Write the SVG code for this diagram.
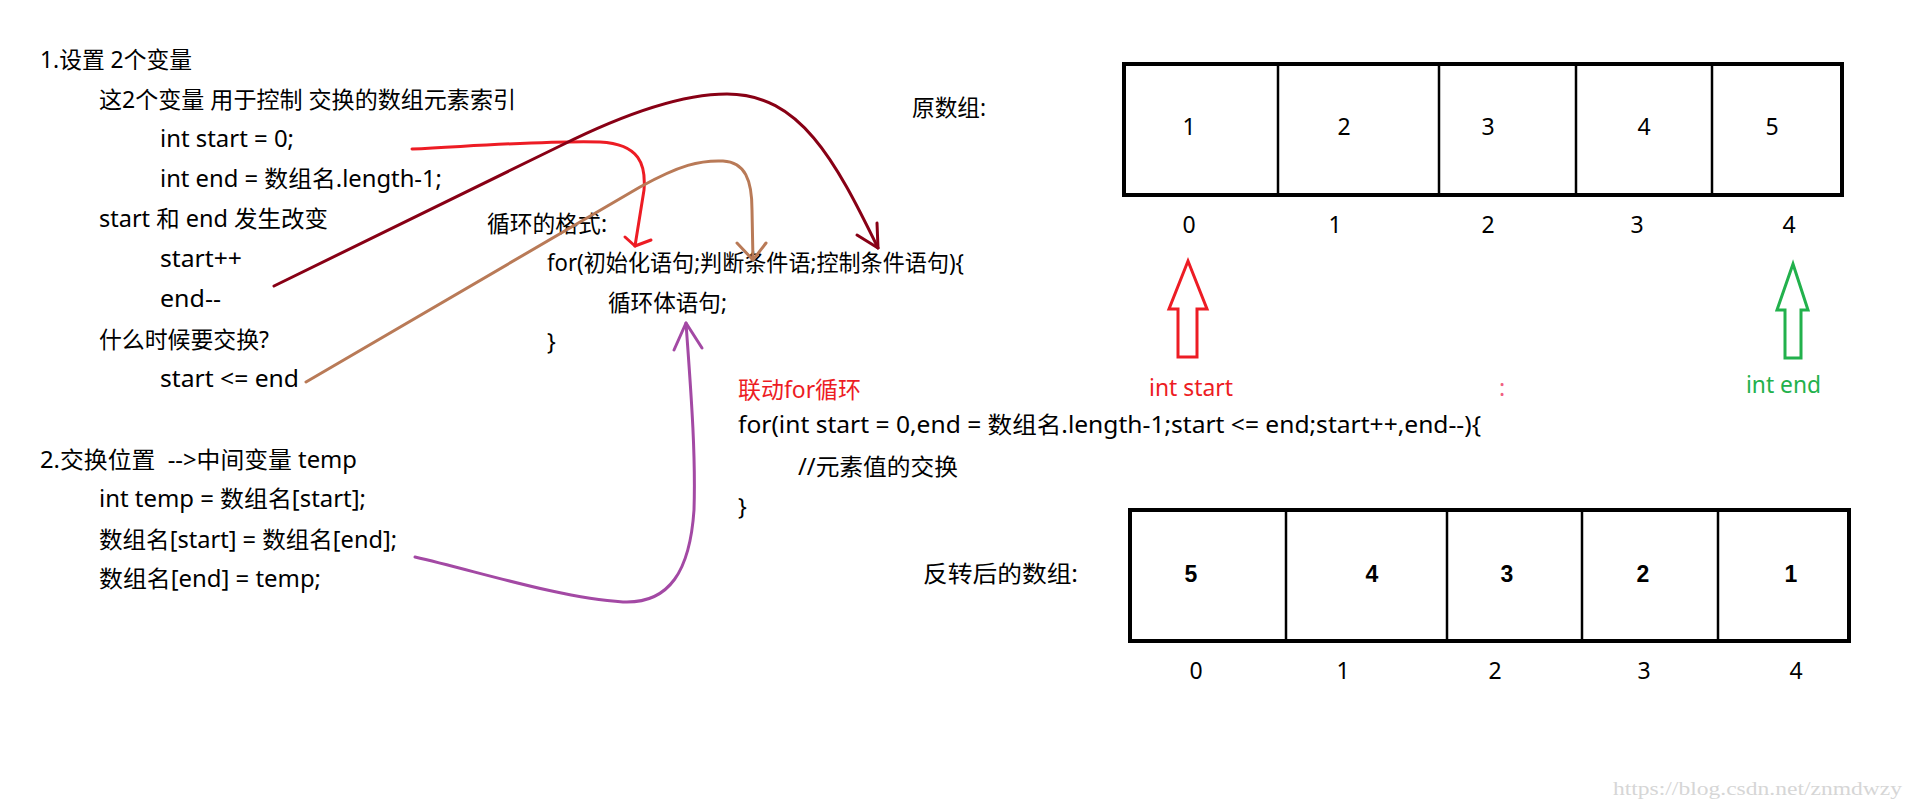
<svg xmlns="http://www.w3.org/2000/svg" width="1914" height="812" viewBox="0 0 1914 812">
<style>
text{font-family:"Noto Sans","Noto Sans CJK SC",sans-serif;font-size:23px;fill:#000}
.red{fill:#ed1c24}
.grn{fill:#22b14c}
.num{text-anchor:middle}
.bnum{text-anchor:middle;font-family:"Liberation Sans",sans-serif;font-weight:bold;font-size:23px}
.box{fill:#fff;stroke:#000;stroke-width:4}
.div{stroke:#000;stroke-width:2.5}
.c{fill:none;stroke-linecap:round;stroke-linejoin:round}
.wm{font-family:"Liberation Serif",serif;font-size:19px;fill:#d6d6d6}
</style>
<rect width="1914" height="812" fill="#fff"/>

<g id="step1">
<text x="40" y="68" textLength="152" lengthAdjust="spacingAndGlyphs">1.设置 2个变量</text>
<text x="99" y="108" textLength="417" lengthAdjust="spacingAndGlyphs">这2个变量 用于控制 交换的数组元素索引</text>
<text x="160" y="147" textLength="134" lengthAdjust="spacingAndGlyphs">int start = 0;</text>
<text x="160" y="187" textLength="282" lengthAdjust="spacingAndGlyphs">int end = 数组名.length-1;</text>
<text x="99" y="227" textLength="229" lengthAdjust="spacingAndGlyphs">start 和 end 发生改变</text>
<text x="160" y="267" textLength="82" lengthAdjust="spacingAndGlyphs">start++</text>
<text x="160" y="307" textLength="61" lengthAdjust="spacingAndGlyphs">end--</text>
<text x="99" y="348" textLength="170" lengthAdjust="spacingAndGlyphs">什么时候要交换?</text>
<text x="160" y="387" textLength="139" lengthAdjust="spacingAndGlyphs">start &lt;= end</text>
</g>

<g id="step2">
<text x="40" y="468" textLength="317" lengthAdjust="spacingAndGlyphs" xml:space="preserve">2.交换位置  --&gt;中间变量 temp</text>
<text x="99" y="507" textLength="267" lengthAdjust="spacingAndGlyphs">int temp = 数组名[start];</text>
<text x="99" y="548" textLength="298" lengthAdjust="spacingAndGlyphs">数组名[start] = 数组名[end];</text>
<text x="99" y="587" textLength="222" lengthAdjust="spacingAndGlyphs">数组名[end] = temp;</text>
</g>

<g id="loopFormat">
<text x="487" y="232" textLength="120" lengthAdjust="spacingAndGlyphs">循环的格式:</text>
<text x="547" y="271" textLength="417" lengthAdjust="spacingAndGlyphs">for(初始化语句;判断条件语;控制条件语句){</text>
<text x="608" y="311" textLength="119" lengthAdjust="spacingAndGlyphs">循环体语句;</text>
<text x="547" y="350">}</text>
</g>

<g id="linkedFor">
<text x="738" y="398" class="red" textLength="123" lengthAdjust="spacingAndGlyphs">联动for循环</text>
<text x="738" y="433" textLength="743" lengthAdjust="spacingAndGlyphs">for(int start = 0,end = 数组名.length-1;start &lt;= end;start++,end--){</text>
<text x="798" y="475" textLength="160" lengthAdjust="spacingAndGlyphs">//元素值的交换</text>
<text x="738" y="515">}</text>
</g>

<g id="originalArray">
<text x="912" y="116" textLength="74" lengthAdjust="spacingAndGlyphs">原数组:</text>
<rect class="box" x="1124" y="64" width="718" height="131"/>
<line class="div" x1="1278" y1="64" x2="1278" y2="195"/>
<line class="div" x1="1439" y1="64" x2="1439" y2="195"/>
<line class="div" x1="1576" y1="64" x2="1576" y2="195"/>
<line class="div" x1="1712" y1="64" x2="1712" y2="195"/>
<text class="num" x="1189" y="135">1</text>
<text class="num" x="1344" y="135">2</text>
<text class="num" x="1488" y="135">3</text>
<text class="num" x="1644" y="135">4</text>
<text class="num" x="1772" y="135">5</text>
<text class="num" x="1189" y="233">0</text>
<text class="num" x="1335" y="233">1</text>
<text class="num" x="1488" y="233">2</text>
<text class="num" x="1637" y="233">3</text>
<text class="num" x="1789" y="233">4</text>
</g>

<g id="startPointer">
<path d="M1188,261 L1207,309 L1197,309 L1197,357 L1178,357 L1178,309 L1169,309 Z" fill="none" stroke="#ed1c24" stroke-width="3"/>
<text x="1149" y="396" class="red" textLength="84" lengthAdjust="spacingAndGlyphs">int start</text>
<text x="1499" y="396" class="red" style="fill:#f06080">:</text>
</g>

<g id="endPointer">
<path d="M1793,264 L1808,310 L1801,310 L1801,358 L1785,358 L1785,310 L1777,310 Z" fill="none" stroke="#22b14c" stroke-width="3"/>
<text x="1746" y="393" class="grn" textLength="75" lengthAdjust="spacingAndGlyphs">int end</text>
</g>

<g id="reversedArray">
<text x="923" y="582" textLength="155" lengthAdjust="spacingAndGlyphs">反转后的数组:</text>
<rect class="box" x="1130" y="510" width="719" height="131"/>
<line class="div" x1="1286" y1="510" x2="1286" y2="641"/>
<line class="div" x1="1447" y1="510" x2="1447" y2="641"/>
<line class="div" x1="1582" y1="510" x2="1582" y2="641"/>
<line class="div" x1="1718" y1="510" x2="1718" y2="641"/>
<text class="bnum" x="1191" y="582">5</text>
<text class="bnum" x="1372" y="582">4</text>
<text class="bnum" x="1507" y="582">3</text>
<text class="bnum" x="1643" y="582">2</text>
<text class="bnum" x="1791" y="582">1</text>
<text class="num" x="1196" y="679">0</text>
<text class="num" x="1343" y="679">1</text>
<text class="num" x="1495" y="679">2</text>
<text class="num" x="1644" y="679">3</text>
<text class="num" x="1796" y="679">4</text>
</g>

<g id="connectors">
<path class="c" stroke="#ed1c24" stroke-width="3" d="M412,149 C490,145 560,140 600,142 C640,144 646,165 644,190 L635,246"/>
<path class="c" stroke="#ed1c24" stroke-width="3" d="M625,237 L635,246 L651,240"/>
<path class="c" stroke="#880015" stroke-width="3" d="M274,286 L560,146 C620,116 680,94 727,94 C800,94 835,160 878,248"/>
<path class="c" stroke="#880015" stroke-width="3" d="M857,235 L878,248 L877,223"/>
<path class="c" stroke="#b97a57" stroke-width="3" d="M306,382 L640,187 C680,165 700,160 723,161 C745,162 752,180 752,210 L753,260"/>
<path class="c" stroke="#b97a57" stroke-width="3" d="M737,243 L753,260 L766,243"/>
<path class="c" stroke="#a349a4" stroke-width="3" d="M415,557 C480,572 560,598 623,602 C670,604 690,570 694,510 C696,450 690,380 686,323"/>
<path class="c" stroke="#a349a4" stroke-width="3" d="M674,350 L686,323 L702,348"/>
</g>

<text class="wm" x="1613" y="795" textLength="289" lengthAdjust="spacingAndGlyphs">https://blog.csdn.net/znmdwzy</text>
</svg>
